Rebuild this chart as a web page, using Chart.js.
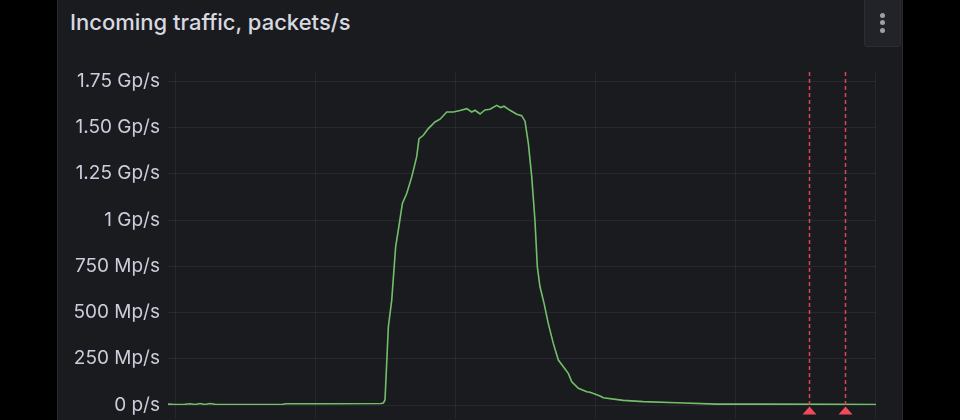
<!DOCTYPE html>
<html>
<head>
<meta charset="utf-8">
<script src="https://cdn.jsdelivr.net/npm/chart.js@4.4.1/dist/chart.umd.min.js"></script>
<style>
  html, body { margin: 0; padding: 0; background: #000; }
  body { width: 960px; height: 420px; overflow: hidden; position: relative; font-family: Inter, "Noto Sans", sans-serif; }
  .painel { position: absolute; left: 57px; top: -2px; width: 846px; height: 440px; background: #1a1b1f; border: 1px solid #2a2b30; box-sizing: border-box; }
  .titulo { position: absolute; left: 70px; top: 11px; line-height: 22px; color: #d8d9e0; font-size: 22px; font-weight: 500; white-space: nowrap; }
  .menu { position: absolute; left: 864px; top: -1px; width: 37px; height: 48px; background: #222328; border: 1px solid #2c2d33; border-radius: 0 0 3px 3px; box-sizing: border-box; }
  .menu span { position: absolute; left: 15px; width: 5px; height: 5px; border-radius: 50%; background: #9d9ea7; }
  #grafico { position: absolute; left: 0; top: 0; }
</style>
</head>
<body>
<div class="painel"></div>
<div class="titulo">Incoming traffic, packets/s</div>
<div class="menu"><span style="top:13px"></span><span style="top:20px"></span><span style="top:28px"></span></div>
<canvas id="grafico" width="960" height="440"></canvas>
<script>
// tempo em minutos, valores em Mp/s
const tempos = [-0.5, 0, 0.71, 1.07, 1.43, 1.79, 2.14, 2.5, 2.86, 3.57, 5.36, 7.71, 7.93, 11.07, 14.71,
  14.88, 15, 15.24, 15.48, 15.76, 15.95, 16.24, 16.55, 16.91, 17.26, 17.43, 17.74, 18.09, 18.57, 18.93,
  19.41, 19.88, 20.36, 20.84, 21.19, 21.43, 21.79, 22.14, 22.5, 22.98, 23.26, 23.5, 23.93, 24.41, 24.76,
  25, 25.24, 25.48, 25.71, 25.88, 26.07, 26.36, 26.66, 27.02, 27.38, 27.74, 28.09, 28.34, 28.81, 29.41,
  29.64, 30.36, 30.59, 32.02, 33.45, 35.84, 38.69, 41.79, 47.26, 50, 50.07];
const pacotes = [5, 3, 4, 7, 3, 8, 3, 8, 4, 3, 3, 4, 7, 7, 8,
  11, 27, 423, 567, 855, 945, 1089, 1143, 1233, 1341, 1440, 1458, 1494, 1530, 1545,
  1584, 1584, 1592, 1602, 1584, 1593, 1573, 1595, 1599, 1620, 1608, 1615, 1593, 1572, 1564,
  1534, 1413, 1233, 999, 747, 639, 549, 441, 333, 243, 207, 171, 126, 90, 72,
  69, 49, 39, 25, 18, 12, 5, 5, 4, 2, 2];
const marcacoes = [45.25, 47.89];
const ticksY = [0, 250, 500, 750, 1000, 1250, 1500, 1750];
const rotulosY = ['0 p/s', '250 Mp/s', '500 Mp/s', '750 Mp/s', '1 Gp/s', '1.25 Gp/s', '1.50 Gp/s', '1.75 Gp/s'];
const ticksX = [0, 10, 20, 30, 40, 50];

const marcadores = {
  id: 'marcadores',
  afterDatasetsDraw(chart) {
    const { ctx, chartArea, scales: { x } } = chart;
    ctx.save();
    marcacoes.forEach(t => {
      const px = Math.round(x.getPixelForValue(t)) + 0.5;
      ctx.strokeStyle = 'rgba(242,73,92,0.9)';
      ctx.lineWidth = 1.5;
      ctx.setLineDash([4, 3]);
      ctx.beginPath();
      ctx.moveTo(px, chartArea.top);
      ctx.lineTo(px, chartArea.bottom);
      ctx.stroke();
      ctx.setLineDash([]);
      ctx.fillStyle = '#F2495C';
      ctx.beginPath();
      ctx.moveTo(px, chartArea.bottom + 1.5);
      ctx.lineTo(px + 7, chartArea.bottom + 9.5);
      ctx.lineTo(px - 7, chartArea.bottom + 9.5);
      ctx.closePath();
      ctx.fill();
    });
    ctx.restore();
  }
};

const corGrade = 'rgba(204,204,220,0.08)';

new Chart(document.getElementById('grafico').getContext('2d'), {
  type: 'line',
  data: {
    datasets: [{
      data: tempos.map((t, i) => ({ x: t, y: pacotes[i] })),
      borderColor: '#73BF69',
      borderWidth: 1.6,
      pointRadius: 0,
      tension: 0,
      fill: false
    }]
  },
  options: {
    responsive: false,
    animation: false,
    devicePixelRatio: 1,
    layout: { padding: { left: 0, right: 84, top: 72, bottom: 0 } },
    plugins: { legend: { display: false }, tooltip: { enabled: false } },
    scales: {
      x: {
        type: 'linear',
        min: -0.5,
        max: 50.07,
        afterBuildTicks: s => { s.ticks = ticksX.map(v => ({ value: v })); },
        afterFit: s => { s.height = 35; },
        ticks: { display: false },
        grid: { color: corGrade, drawTicks: true, tickLength: 14 },
        border: { display: false }
      },
      y: {
        min: 0,
        max: 1800,
        afterBuildTicks: s => { s.ticks = ticksY.map(v => ({ value: v })); },
        afterFit: s => { s.width = 168; },
        ticks: {
          callback: (v, i) => rotulosY[i],
          color: '#ccccdc',
          padding: 8,
          font: { family: 'Inter', size: 19 }
        },
        grid: { color: corGrade, drawTicks: false },
        border: { display: false }
      }
    }
  },
  plugins: [marcadores]
});
</script>
</body>
</html>
